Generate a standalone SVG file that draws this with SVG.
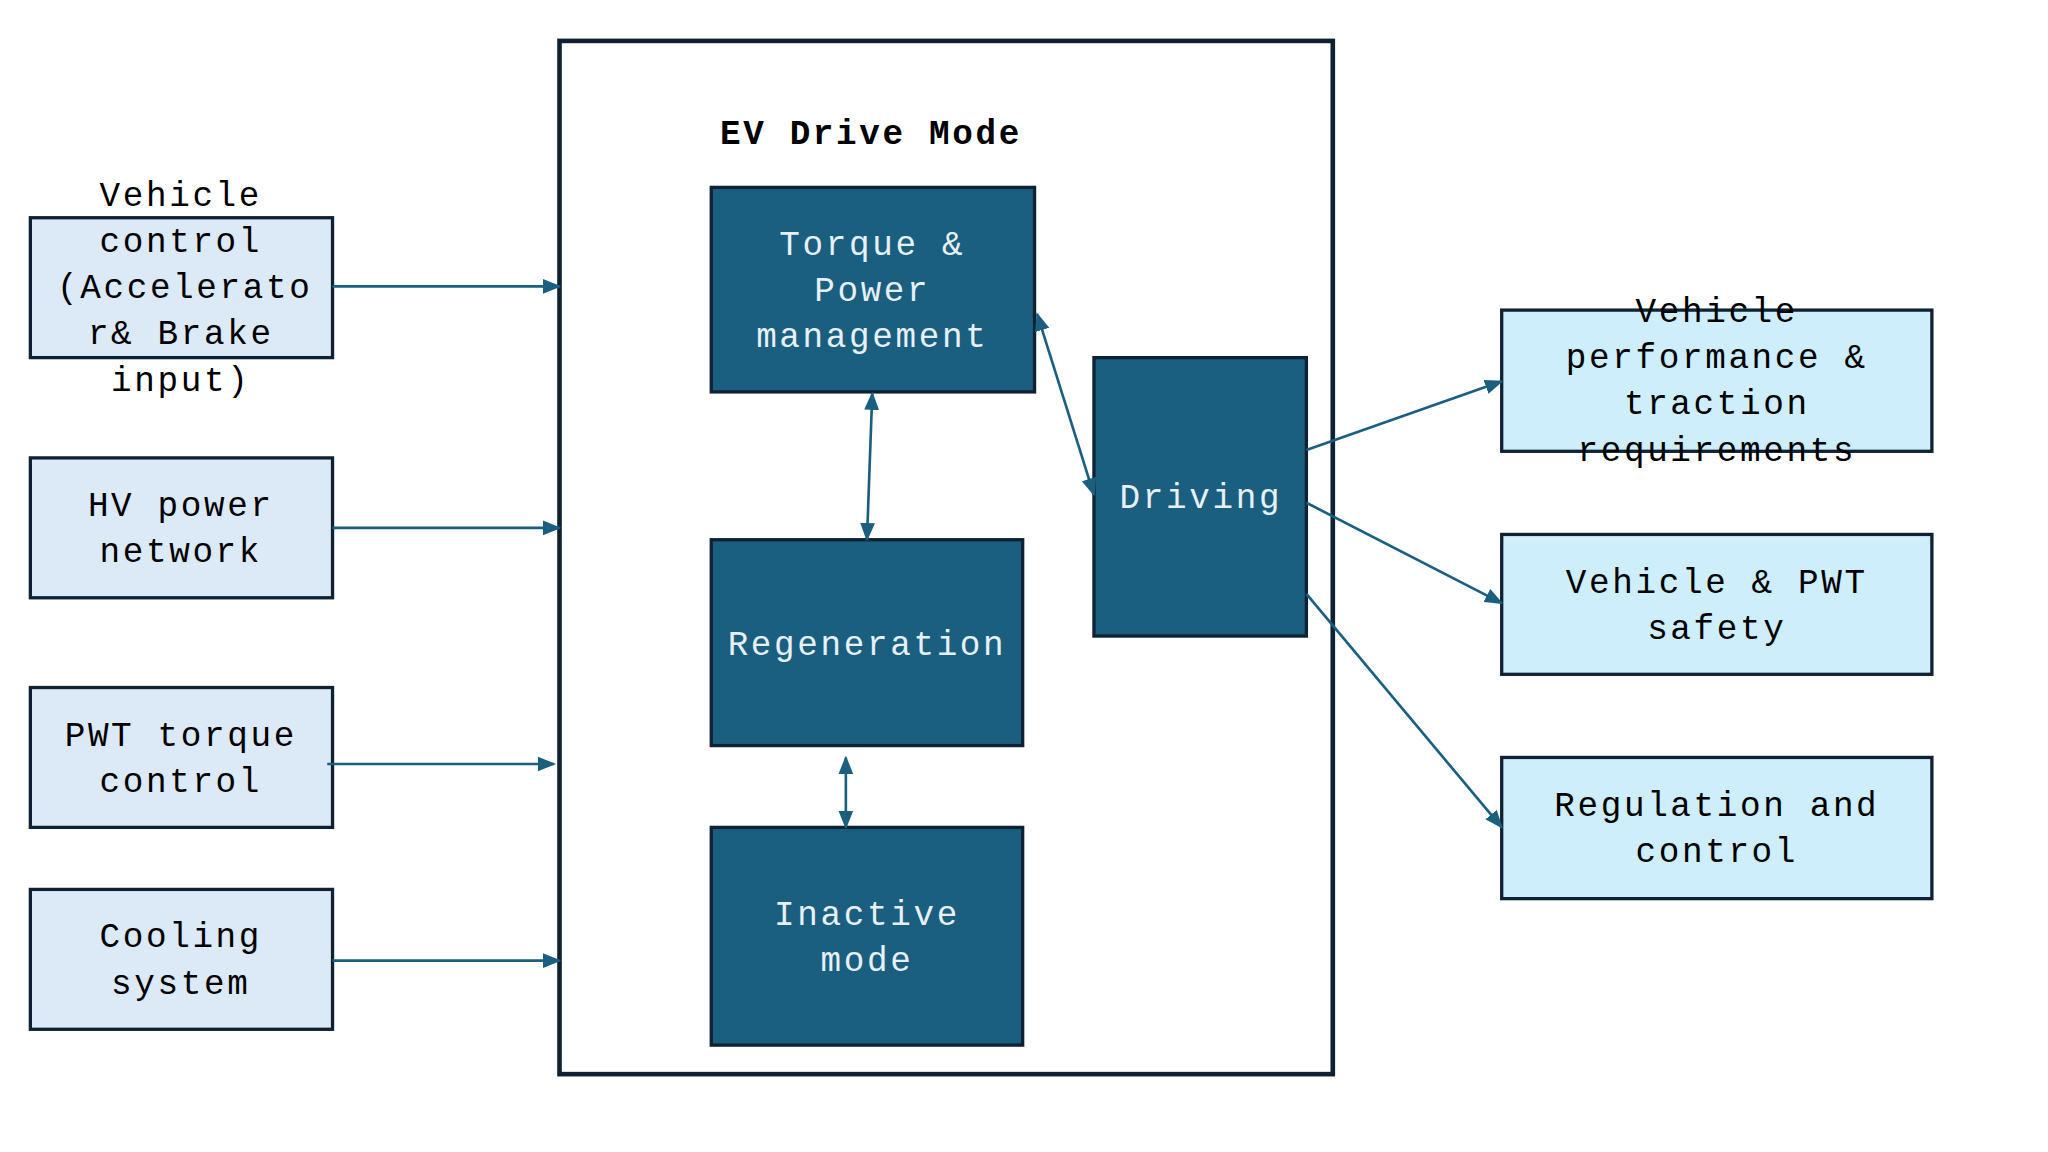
<svg xmlns="http://www.w3.org/2000/svg" width="2048" height="1152" viewBox="0 0 2048 1152">
<defs>
<style>
.t{font-family:"Liberation Mono","DejaVu Sans Mono",monospace;font-size:26px;letter-spacing:2px;text-anchor:middle}
.d{fill:#1a5e80;stroke:#0e2233;stroke-width:2.5}
.dt{fill:#e6f0f6}
.l{fill:#dce9f6;stroke:#0e2233;stroke-width:2.5}
.r{fill:#cdeefa;stroke:#0e2233;stroke-width:2.5}
.c{stroke:#1a5e80;stroke-width:2;fill:none;marker-end:url(#a)}
.b{marker-start:url(#s)}
</style>
<marker id="a" viewBox="0 0 10 10" refX="9" refY="5" markerWidth="7" markerHeight="7" orient="auto"><path d="M0,1L10,5L0,9z" fill="#1a5e80"/></marker>
<marker id="s" viewBox="0 0 10 10" refX="1" refY="5" markerWidth="7" markerHeight="7" orient="auto"><path d="M10,1L0,5L10,9z" fill="#1a5e80"/></marker>
</defs>
<rect width="2048" height="1152" fill="#fff"/>
<g transform="scale(1.3196)">
<g id="outer"><rect x="424" y="31" width="586" height="783" fill="#fff" stroke="#0e2233" stroke-width="3.5"/>
<text x="660" y="109" class="t" style="font-weight:bold" fill="#000">EV Drive Mode</text></g>
<g id="torque"><rect class="d" x="539" y="142" width="245" height="155"/><text class="t dt" x="661" y="193">Torque &amp;</text><text class="t dt" x="661" y="228">Power</text><text class="t dt" x="661" y="263">management</text></g>
<g id="regen"><rect class="d" x="539" y="409" width="236" height="156"/><text class="t dt" x="657" y="496">Regeneration</text></g>
<g id="inactive"><rect class="d" x="539" y="627" width="236" height="165"/><text class="t dt" x="657" y="701">Inactive</text><text class="t dt" x="657" y="736">mode</text></g>
<g id="driving"><rect class="d" x="829" y="271" width="161" height="211"/><text class="t dt" x="910" y="385">Driving</text></g>
<g id="vc"><rect class="l" x="23" y="165" width="229" height="106"/><text class="t" x="137" y="156">Vehicle</text><text class="t" x="137" y="191">control</text><text class="t" x="140" y="226">(Accelerato</text><text class="t" x="137" y="261">r&amp; Brake</text><text class="t" x="137" y="296">input)</text></g>
<g id="hv"><rect class="l" x="23" y="347" width="229" height="106"/><text class="t" x="137" y="391">HV power</text><text class="t" x="137" y="426">network</text></g>
<g id="pwt"><rect class="l" x="23" y="521" width="229" height="106"/><text class="t" x="137" y="565">PWT torque</text><text class="t" x="137" y="600">control</text></g>
<g id="cool"><rect class="l" x="23" y="674" width="229" height="106"/><text class="t" x="137" y="718">Cooling</text><text class="t" x="137" y="753">system</text></g>
<g id="perf"><rect class="r" x="1138" y="235" width="326" height="107"/><text class="t" x="1301" y="244">Vehicle</text><text class="t" x="1301" y="279">performance &amp;</text><text class="t" x="1301" y="314">traction</text><text class="t" x="1301" y="349">requirements</text></g>
<g id="safety"><rect class="r" x="1138" y="405" width="326" height="106"/><text class="t" x="1301" y="449">Vehicle &amp; PWT</text><text class="t" x="1301" y="484">safety</text></g>
<g id="reg"><rect class="r" x="1138" y="574" width="326" height="107"/><text class="t" x="1301" y="618">Regulation and</text><text class="t" x="1301" y="653">control</text></g>
<g id="connectors">
<line class="c" x1="252" y1="217" x2="424" y2="217"/>
<line class="c" x1="252" y1="400" x2="424" y2="400"/>
<line class="c" x1="248" y1="579" x2="420" y2="579"/>
<line class="c" x1="252" y1="728" x2="424" y2="728"/>
<line class="c b" x1="661" y1="298" x2="657" y2="409"/>
<line class="c b" x1="641" y1="574" x2="641" y2="627"/>
<line class="c b" x1="786" y1="238" x2="829" y2="375"/>
<line class="c" x1="990" y1="341" x2="1138" y2="289"/>
<line class="c" x1="990" y1="381" x2="1138" y2="457"/>
<line class="c" x1="990" y1="450" x2="1138" y2="627"/>
</g>
</g>
</svg>
